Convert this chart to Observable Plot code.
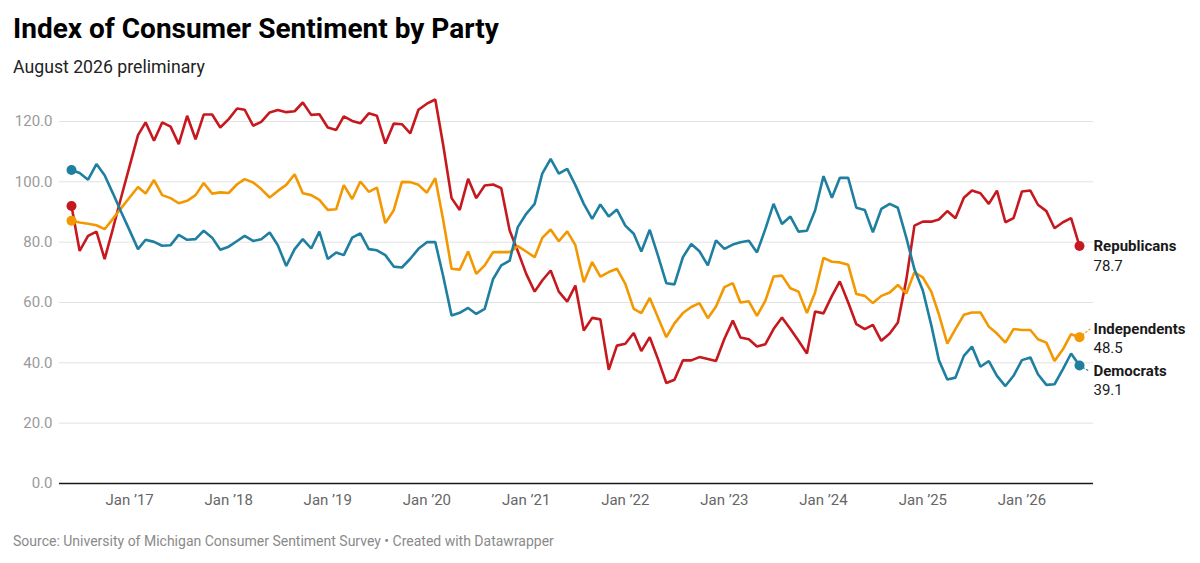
<!DOCTYPE html>
<html>
<head>
<meta charset="utf-8">
<script src="https://cdn.jsdelivr.net/npm/d3@7"></script>
<script src="https://cdn.jsdelivr.net/npm/@observablehq/plot@0.6"></script>
<style>
  html, body { margin: 0; padding: 0; background: #fff; }
  #wrap { position: relative; width: 1200px; height: 563px; font-family: Roboto, "Noto Sans", sans-serif; overflow: hidden; }
  #title { position: absolute; left: 13px; top: 13px; margin: 0; font-size: 28px; line-height: 32px; font-weight: 700; color: #000; white-space: nowrap; }
  #subtitle { position: absolute; left: 13px; top: 57px; margin: 0; font-size: 17.7px; line-height: 21px; font-weight: 400; color: #222; white-space: nowrap; }
  #chart { position: absolute; left: 0; top: 88px; }
  #caption { position: absolute; left: 13px; top: 533px; margin: 0; font-size: 14px; line-height: 17px; color: #8a8a8a; white-space: nowrap; }
</style>
</head>
<body>
<div id="wrap">
  <div id="title">Index of Consumer Sentiment by Party</div>
  <div id="subtitle">August 2026 preliminary</div>
  <div id="chart"></div>
  <div id="caption">Source: University of Michigan Consumer Sentiment Survey • Created with Datawrapper</div>
</div>
<script>
// ---- Data (monthly, June 2016 – August 2026) ----
const firstMonth = "2016-06-01";
const lastMonth = "2026-08-01";

const parties = ["Republicans", "Independents", "Democrats"];
const partyColors = ["#c6191f", "#f39800", "#1f7fa1"];

const republicans = [
  92.0, 77.1, 82.1, 83.5, 74.4, 84.6, 94.9, 105.2, 115.5, 119.7,
  113.6, 119.7, 118.3, 112.5, 121.9, 114.1, 122.3, 122.3, 118.0, 120.8,
  124.3, 123.9, 118.6, 119.9, 123.0, 123.8, 123.1, 123.4, 126.3, 122.2,
  122.4, 118.0, 117.2, 121.7, 120.2, 119.4, 122.7, 121.9, 112.7, 119.3,
  119.1, 116.1, 123.9, 125.9, 127.3, 112.3, 94.6, 90.7, 101.0, 94.6,
  98.8, 99.1, 97.9, 83.9, 77.0, 69.5, 63.6, 67.3, 70.6, 63.6,
  60.3, 65.6, 50.7, 54.9, 54.4, 37.7, 45.7, 46.3, 49.9, 43.9,
  48.5, 41.3, 33.3, 34.4, 40.8, 40.8, 41.9, 41.3, 40.6, 48.0,
  54.0, 48.4, 47.8, 45.4, 46.2, 51.2, 55.0, 51.2, 47.3, 43.1,
  57.0, 56.4, 62.2, 67.0, 60.0, 52.8, 51.2, 52.6, 47.3, 49.7,
  53.4, 67.5, 85.5, 86.8, 86.8, 87.5, 90.3, 87.9, 94.7, 97.1,
  96.2, 92.7, 97.1, 86.6, 88.0, 96.8, 97.1, 92.4, 90.3, 84.6,
  86.6, 88.0, 78.7
];

const independents = [
  87.1, 86.5, 86.1, 85.6, 84.3, 87.8, 91.3, 94.8, 98.3, 96.1,
  100.6, 95.6, 94.6, 92.9, 93.7, 95.6, 99.6, 96.1, 96.5, 96.3,
  99.2, 100.9, 99.8, 97.6, 94.8, 97.0, 99.0, 102.5, 96.2, 95.6,
  94.0, 90.7, 90.9, 98.9, 94.3, 100.1, 96.7, 98.1, 86.3, 90.6,
  100.0, 99.9, 99.0, 96.4, 101.2, 87.4, 71.2, 70.9, 76.9, 69.5,
  72.3, 76.7, 76.7, 76.7, 78.7, 76.9, 75.0, 81.4, 84.2, 80.3,
  83.6, 79.0, 66.7, 73.4, 68.6, 70.1, 71.2, 66.2, 57.9, 56.5,
  61.5, 55.1, 48.5, 53.1, 56.5, 58.5, 59.8, 54.8, 58.7, 65.1,
  66.4, 60.0, 60.4, 55.6, 60.6, 68.6, 68.9, 64.7, 63.6, 56.5,
  63.3, 74.8, 73.5, 73.3, 72.5, 62.8, 62.2, 59.8, 62.2, 63.3,
  65.8, 63.0, 70.0, 68.3, 63.6, 56.1, 46.4, 51.2, 55.9, 56.7,
  56.7, 52.0, 49.7, 46.7, 51.2, 50.9, 50.9, 47.8, 46.7, 40.6,
  44.5, 49.5, 48.5
];

const democrats = [
  103.9, 102.9, 100.7, 105.9, 102.2, 96.1, 90.0, 83.9, 77.7, 80.8,
  80.1, 78.8, 79.0, 82.4, 80.8, 81.0, 83.8, 81.5, 77.5, 78.5,
  80.4, 82.1, 80.4, 81.0, 83.2, 79.0, 72.1, 77.7, 81.0, 77.9,
  83.5, 74.4, 76.6, 75.7, 81.5, 82.9, 77.7, 77.3, 75.7, 71.9,
  71.6, 74.5, 77.8, 80.0, 80.0, 68.8, 55.7, 56.6, 58.2, 56.2,
  57.9, 67.8, 72.3, 73.9, 85.0, 89.4, 92.7, 102.7, 107.6, 102.7,
  104.3, 98.9, 92.7, 87.7, 92.5, 88.5, 90.8, 85.5, 82.8, 76.9,
  84.1, 75.6, 66.4, 66.0, 75.0, 79.4, 77.0, 72.3, 80.6, 77.8,
  79.2, 80.0, 80.5, 76.6, 84.4, 92.7, 86.0, 88.5, 83.5, 83.8,
  90.5, 101.9, 94.7, 101.3, 101.3, 91.4, 90.7, 83.3, 91.0, 92.7,
  91.4, 81.5, 71.0, 64.0, 52.5, 40.9, 34.5, 35.1, 42.3, 45.4,
  38.7, 40.6, 35.7, 32.3, 35.7, 40.9, 41.8, 36.2, 32.7, 32.9,
  37.9, 43.1, 39.1
];

const yTicks = [0, 20, 40, 60, 80, 100, 120];
const xTickYears = [2017, 2018, 2019, 2020, 2021, 2022, 2023, 2024, 2025, 2026];
const xTickLabels = ["Jan ’17", "Jan ’18", "Jan ’19", "Jan ’20", "Jan ’21", "Jan ’22", "Jan ’23", "Jan ’24", "Jan ’25", "Jan ’26"];

// label offsets (pixels) for the end labels: [name dy, value dy]
const labelOffsets = [[0, 20], [-8, 11], [6, 25]];

// ---- Build table ----
const months = d3.utcMonth.range(new Date(firstMonth), d3.utcMonth.offset(new Date(lastMonth), 1));
const seriesValues = [republicans, independents, democrats];
const data = parties.flatMap((p, k) => seriesValues[k].map((v, i) => ({date: months[i], party: p, value: v})));
const firstPts = parties.map((p, k) => ({date: months[0], party: p, value: seriesValues[k][0]}));
const lastPts = parties.map((p, k) => ({date: months[months.length - 1], party: p, value: seriesValues[k][seriesValues[k].length - 1]}));
const xTicks = xTickYears.map(y => new Date(Date.UTC(y, 0, 1)));
const tickLabelOf = new Map(xTicks.map((d, i) => [+d, xTickLabels[i]]));

const marginTop = 33, marginBottom = 37, height = 432;
const pxPerUnit = (height - marginTop - marginBottom) / (yTicks[yTicks.length - 1] - yTicks[0]);

// dotted leaders for dodged labels
const leaders = parties.flatMap((p, k) => {
  const dy = labelOffsets[k][0];
  if (dy === 0) return [];
  const d = lastPts[k];
  return [
    {party: p, date: d.date, value: d.value, id: k},
    {party: p, date: d3.utcDay.offset(d.date, 38), value: d.value - dy / pxPerUnit, id: k}
  ];
});

const colorScale = {domain: parties, range: partyColors};

const labelMarks = parties.flatMap((p, k) => [
  Plot.text([lastPts[k]], {
    x: "date", y: "value", text: "party", dx: 14, dy: labelOffsets[k][0],
    textAnchor: "start", lineAnchor: "middle", fontWeight: 700, fontSize: 15, fill: "#1a1a1a"
  }),
  Plot.text([lastPts[k]], {
    x: "date", y: "value", text: d => d.value.toFixed(1), dx: 14, dy: labelOffsets[k][1],
    textAnchor: "start", lineAnchor: "middle", fontWeight: 400, fontSize: 15, fill: "#1a1a1a"
  })
]);

const chart = Plot.plot({
  width: 1200,
  height,
  marginTop,
  marginBottom,
  marginLeft: 59,
  marginRight: 107,
  style: {fontFamily: "Roboto, 'Noto Sans', sans-serif", background: "#fff", overflow: "visible"},
  x: {type: "utc", domain: [months[0], months[months.length - 1]], insetLeft: 12, insetRight: 14},
  y: {domain: [0, 120]},
  color: colorScale,
  marks: [
    Plot.gridY(yTicks.filter(t => t > 0), {stroke: "#e2e2e2", strokeOpacity: 1, strokeWidth: 1}),
    Plot.axisY(yTicks, {tickSize: 0, tickPadding: 7, tickFormat: d => d.toFixed(1), fontSize: 15, fill: "#9a9a9a", label: null}),
    Plot.axisX(xTicks, {tickSize: 0, tickPadding: 11, tickFormat: d => tickLabelOf.get(+d), fontSize: 15, fill: "#666", label: null}),
    Plot.ruleY([0], {stroke: "#1a1a1a", strokeWidth: 1.6}),
    Plot.line(data, {x: "date", y: "value", z: "party", stroke: "party", strokeWidth: 2.6, strokeLinejoin: "miter", strokeLinecap: "butt", curve: "linear"}),
    Plot.line(leaders, {x: "date", y: "value", z: "id", stroke: "party", strokeWidth: 1.2, strokeDasharray: "1.5,2.5"}),
    Plot.dot(firstPts, {x: "date", y: "value", fill: "party", r: 5, stroke: "none"}),
    Plot.dot(lastPts, {x: "date", y: "value", fill: "party", r: 5, stroke: "none"}),
    ...labelMarks
  ]
});

document.getElementById("chart").appendChild(chart);
</script>
</body>
</html>
